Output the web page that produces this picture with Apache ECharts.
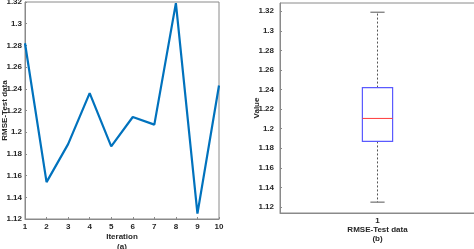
<!DOCTYPE html>
<html><head><meta charset="utf-8">
<script src="https://cdn.jsdelivr.net/npm/echarts@6/dist/echarts.min.js"></script>
<style>html,body{margin:0;padding:0;background:#fff}#c{width:474px;height:249px}</style>
</head><body><div id="c"></div>
<script>
const iterations = [1,2,3,4,5,6,7,8,9,10];
const rmseValues = [1.282,1.154,1.189,1.236,1.187,1.214,1.207,1.319,1.125,1.243];
const yTicks = [1.12,1.14,1.16,1.18,1.2,1.22,1.24,1.26,1.28,1.3,1.32];
const boxCategories = ['1'];
// [min, q1, median, q3, max]
const boxStats = [1.125, 1.187, 1.2105, 1.242, 1.319];

const txt = '#262626';
const axisCol = '#8a8a8a';
const font = 'Liberation Sans, Arial, sans-serif';
const lblStyle = {color: txt, fontSize: 8, fontWeight: 'bold', fontFamily: font};

const chart = echarts.init(document.getElementById('c'), null, {renderer: 'canvas'});
chart.setOption({
  animation: false,
  grid: [
    {left: 25, right: 255, top: 2, bottom: 30, show: true, borderColor: axisCol, borderWidth: 1, backgroundColor: 'transparent', outerBoundsMode: 'none', containLabel: false},
    {left: 280, right: -1, top: 3, bottom: 36, show: true, borderColor: axisCol, borderWidth: 1, backgroundColor: 'transparent', outerBoundsMode: 'none', containLabel: false}
  ],
  xAxis: [
    {gridIndex: 0, type: 'value', min: 1, max: 10, interval: 1,
     axisLine: {lineStyle: {color: axisCol}}, axisTick: {inside: true, length: 2, lineStyle: {color: axisCol}},
     splitLine: {show: false},
     axisLabel: Object.assign({margin: 4}, lblStyle),
     name: 'Iteration\n(a)', nameLocation: 'middle', nameGap: 13, nameMoveOverlap: false,
     nameTextStyle: Object.assign({lineHeight: 10}, lblStyle)},
    {gridIndex: 1, type: 'category', data: boxCategories,
     axisLine: {lineStyle: {color: axisCol}}, axisTick: {inside: true, length: 2, alignWithLabel: true, lineStyle: {color: axisCol}},
     splitLine: {show: false},
     axisLabel: Object.assign({margin: 4}, lblStyle),
     name: 'RMSE-Test data\n(b)', nameLocation: 'middle', nameGap: 12, nameMoveOverlap: false,
     nameTextStyle: Object.assign({lineHeight: 9}, lblStyle)}
  ],
  yAxis: [
    {gridIndex: 0, type: 'value', min: 1.12, max: 1.32, interval: 0.02,
     axisLine: {show: true, lineStyle: {color: axisCol}}, axisTick: {show: true, inside: true, length: 2, lineStyle: {color: axisCol}},
     splitLine: {show: false},
     axisLabel: Object.assign({margin: 3, formatter: v => String(+v.toFixed(2))}, lblStyle),
     name: 'RMSE-Test data', nameLocation: 'middle', nameGap: 16, nameRotate: 90, nameMoveOverlap: false,
     nameTextStyle: lblStyle},
    {gridIndex: 1, type: 'value', min: 1.1139, max: 1.3284,
     axisLine: {show: true, lineStyle: {color: axisCol}},
     axisTick: {show: true, inside: true, length: 2, customValues: yTicks, lineStyle: {color: axisCol}},
     splitLine: {show: false},
     axisLabel: Object.assign({margin: 6, customValues: yTicks, formatter: v => String(+v.toFixed(2))}, lblStyle),
     name: 'Value', nameLocation: 'middle', nameGap: 19, nameRotate: 90, nameMoveOverlap: false,
     nameTextStyle: lblStyle}
  ],
  series: [
    {type: 'line', xAxisIndex: 0, yAxisIndex: 0,
     data: iterations.map((x, i) => [x, rmseValues[i]]),
     showSymbol: false, symbol: 'none',
     lineStyle: {color: '#0072BD', width: 2.2}},
    {type: 'custom', xAxisIndex: 1, yAxisIndex: 1,
     data: [[0].concat(boxStats)],
     renderItem: function (params, api) {
       const x = api.coord([api.value(0), api.value(1)])[0];
       const yMin = api.coord([api.value(0), api.value(1)])[1];
       const yQ1 = api.coord([api.value(0), api.value(2)])[1];
       const yMed = api.coord([api.value(0), api.value(3)])[1];
       const yQ3 = api.coord([api.value(0), api.value(4)])[1];
       const yMax = api.coord([api.value(0), api.value(5)])[1];
       const bw = api.size([1, 0])[0] * 0.155;
       const cw = bw * 0.47;
       const wStyle = {stroke: '#555', lineWidth: 1, lineDash: [2, 2]};
       const cStyle = {stroke: '#555', lineWidth: 1};
       return {type: 'group', children: [
         {type: 'line', shape: {x1: x, y1: yQ3, x2: x, y2: yMax}, style: wStyle},
         {type: 'line', shape: {x1: x, y1: yQ1, x2: x, y2: yMin}, style: wStyle},
         {type: 'line', shape: {x1: x - cw/2, y1: yMax, x2: x + cw/2, y2: yMax}, style: cStyle},
         {type: 'line', shape: {x1: x - cw/2, y1: yMin, x2: x + cw/2, y2: yMin}, style: cStyle},
         {type: 'rect', shape: {x: x - bw/2, y: yQ3, width: bw, height: yQ1 - yQ3}, style: {fill: 'none', stroke: '#5a5aff', lineWidth: 1.2}},
         {type: 'line', shape: {x1: x - bw/2, y1: yMed, x2: x + bw/2, y2: yMed}, style: {stroke: '#ff3a3a', lineWidth: 1}}
       ]};
     }}
  ]
});
</script>
</body></html>
